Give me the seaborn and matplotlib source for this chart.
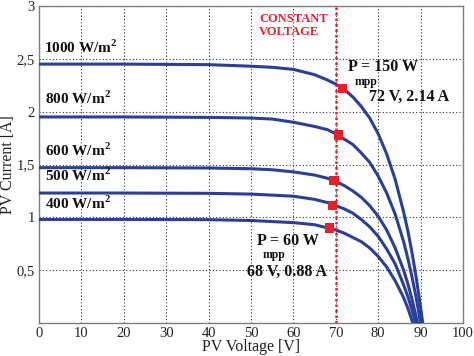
import numpy as np
import pandas as pd
import matplotlib
matplotlib.use("Agg")
import matplotlib.pyplot as plt
import seaborn as sns

# ---- data ----
irradiance = ["1000", "800", "600", "500", "400"]

v_common = [0, 20, 40, 50, 55, 60, 65, 68, 70, 72, 74, 76, 78, 80, 82, 84, 86, 87, 88]

v_1000 = v_common + [89, 90, 90.5]
i_1000 = [2.45, 2.45, 2.445, 2.43, 2.42, 2.40, 2.35, 2.30, 2.26, 2.21, 2.14, 2.05, 1.94,
          1.79, 1.60, 1.36, 1.05, 0.87, 0.66, 0.42, 0.15, 0.0]

v_800 = v_common + [89, 90]
i_800 = [1.95, 1.95, 1.946, 1.94, 1.93, 1.90, 1.86, 1.83, 1.79, 1.74, 1.69, 1.61, 1.52,
         1.39, 1.23, 1.03, 0.77, 0.61, 0.43, 0.23, 0.0]

v_600 = v_common + [89, 89.3]
i_600 = [1.47, 1.47, 1.467, 1.46, 1.45, 1.43, 1.40, 1.37, 1.34, 1.30, 1.25, 1.19, 1.11,
         1.01, 0.88, 0.71, 0.50, 0.37, 0.22, 0.05, 0.0]

v_500 = v_common + [88.8]
i_500 = [1.23, 1.23, 1.227, 1.22, 1.21, 1.20, 1.17, 1.14, 1.11, 1.08, 1.04, 0.98, 0.91,
         0.82, 0.70, 0.56, 0.36, 0.25, 0.12, 0.0]

v_400 = v_common + [88.2]
i_400 = [0.98, 0.98, 0.978, 0.97, 0.96, 0.95, 0.93, 0.90, 0.88, 0.85, 0.81, 0.77, 0.71,
         0.63, 0.53, 0.40, 0.24, 0.14, 0.02, 0.0]

mpp_v = [71.5, 70.6, 69.6, 69.2, 68.5]
mpp_i = [2.22, 1.78, 1.35, 1.11, 0.90]

label_v = [1.2, 1.5, 1.5, 1.5, 1.5]
label_i = [2.61, 2.13, 1.63, 1.40, 1.13]

x_ticks = [0, 10, 20, 30, 40, 50, 60, 70, 80, 90, 100]
y_ticks = [0.5, 1.0, 1.5, 2.0, 2.5, 3.0]
y_ticklabels = ["0,5", "1", "1,5", "2", "2,5", "3"]

constant_v = 70

# ---- build table ----
frames = []
for name, v, i in zip(irradiance, [v_1000, v_800, v_600, v_500, v_400],
                      [i_1000, i_800, i_600, i_500, i_400]):
    frames.append(pd.DataFrame({"V": v, "I": i, "G": name}))
df = pd.concat(frames, ignore_index=True)
mpp = pd.DataFrame({"V": mpp_v, "I": mpp_i, "G": irradiance})

# ---- style ----
sns.set_theme(style="white")
plt.rcParams["font.family"] = ["Liberation Serif", "DejaVu Serif"]
plt.rcParams["mathtext.fontset"] = "custom"
plt.rcParams["mathtext.rm"] = "Liberation Serif"
plt.rcParams["mathtext.bf"] = "Liberation Serif:bold"

fig = plt.figure(figsize=(4.74, 3.56), dpi=100)
ax = fig.add_axes([39 / 474, 1 - 323 / 356, (463 - 39) / 474, (323 - 6) / 356])

blue = "#2a3f98"
sns.lineplot(data=df, x="V", y="I", hue="G", palette=[blue] * 5, sort=False,
             estimator=None, linewidth=2.2, legend=False, ax=ax, zorder=3)

ax.axvline(constant_v, color="#e8202a", linestyle=(0, (1, 1.2)), linewidth=1.8, zorder=4)

sns.scatterplot(data=mpp, x="V", y="I", marker="s", color="#e8202a", s=44,
                edgecolor="none", legend=False, ax=ax, zorder=5)

ax.set_xlim(0, 100)
ax.set_ylim(0, 3)
ax.set_xticks(x_ticks)
ax.set_xticklabels([str(t) for t in x_ticks])
ax.set_yticks(y_ticks)
ax.set_yticklabels(y_ticklabels)
ax.tick_params(axis="x", length=0, labelsize=10.5, colors="#222222", pad=3)
ax.tick_params(axis="y", length=0, labelsize=10.5, colors="#222222", pad=3)
ax.grid(True, color="#333333", linestyle=(0, (1, 2)), linewidth=0.8)
ax.set_axisbelow(True)
for s in ax.spines.values():
    s.set_color("#7f7f7f")
    s.set_linewidth(1.0)

ax.set_xlabel("PV Voltage [V]", fontsize=11.5, color="#222222", labelpad=-1)
ax.set_ylabel("PV Current [A]", fontsize=11.5, color="#222222", labelpad=0)

for name, lv, li in zip(irradiance, label_v, label_i):
    ax.text(lv, li, name + r" W/m$^{\mathbf{2}}$", fontsize=11, fontweight="bold",
            color="#111111", ha="left", va="center", zorder=6)

ax.text(51.9, 2.93, "CONSTANT\nVOLTAGE", fontsize=9, fontweight="bold",
        color="#e8202a", ha="left", va="top", linespacing=1.1, zorder=6)

ax.text(72.9, 2.42, "P = 150 W", fontsize=11.5, fontweight="bold", color="#111111",
        ha="left", va="center", zorder=6)
ax.text(74.5, 2.285, "mpp", fontsize=8.5, fontweight="bold", color="#111111",
        ha="left", va="center", zorder=6)
ax.text(77.8, 2.14, "72 V, 2.14 A", fontsize=11.5, fontweight="bold", color="#111111",
        ha="left", va="center", zorder=6)

ax.text(51.4, 0.78, "P = 60 W", fontsize=11.5, fontweight="bold", color="#111111",
        ha="left", va="center", zorder=6)
ax.text(52.8, 0.645, "mpp", fontsize=8.5, fontweight="bold", color="#111111",
        ha="left", va="center", zorder=6)
ax.text(49.1, 0.48, "68 V, 0.88 A", fontsize=11.5, fontweight="bold", color="#111111",
        ha="left", va="center", zorder=6)

fig.savefig("out.png", dpi=100)
